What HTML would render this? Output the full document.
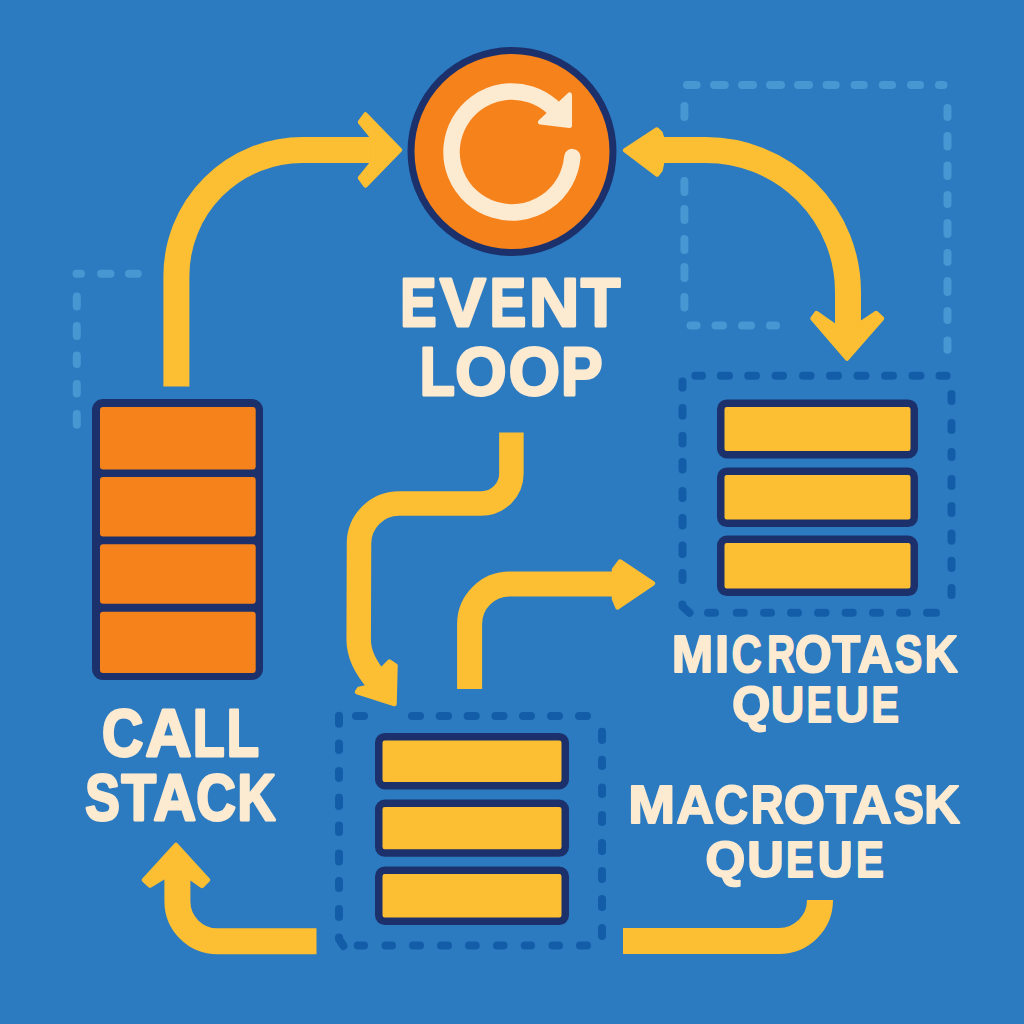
<!DOCTYPE html>
<html><head><meta charset="utf-8"><style>
html,body{margin:0;padding:0;width:1024px;height:1024px;overflow:hidden;background:#2C7BC0;}
svg{display:block;}
</style></head><body>
<svg width="1024" height="1024" viewBox="0 0 1024 1024">
<rect width="1024" height="1024" fill="#2C7BC0"/>
<g stroke="#4797D2" stroke-width="8" stroke-linecap="round"><line x1="687.0" y1="85" x2="696.6" y2="85" /><line x1="714.0" y1="85" x2="724.8" y2="85" /><line x1="742.0" y1="85" x2="753.0" y2="85" /><line x1="770.0" y1="85" x2="781.0" y2="85" /><line x1="798.0" y1="85" x2="809.0" y2="85" /><line x1="826.5" y1="85" x2="835.7" y2="85" /><line x1="854.6" y1="85" x2="863.8" y2="85" /><line x1="882.8" y1="85" x2="892.0" y2="85" /><line x1="911.0" y1="85" x2="920.0" y2="85" /><line x1="939.0" y1="85" x2="943.5" y2="85" /><line x1="684.4" y1="106.0" x2="684.4" y2="117.0" /><line x1="684.4" y1="181.0" x2="684.4" y2="192.0" /><line x1="684.4" y1="209.0" x2="684.4" y2="220.0" /><line x1="684.4" y1="239.0" x2="684.4" y2="250.0" /><line x1="684.4" y1="267.0" x2="684.4" y2="278.0" /><line x1="684.4" y1="297.0" x2="684.4" y2="307.5" /><line x1="690.5" y1="325.6" x2="696.6" y2="325.6" /><line x1="715.5" y1="325.6" x2="723.0" y2="325.6" /><line x1="742.0" y1="325.6" x2="751.0" y2="325.6" /><line x1="770.0" y1="325.6" x2="776.0" y2="325.6" /><line x1="947.5" y1="108.0" x2="947.5" y2="117.0" /><line x1="947.5" y1="136.0" x2="947.5" y2="146.6" /><line x1="947.5" y1="165.6" x2="947.5" y2="176.0" /><line x1="947.5" y1="195.0" x2="947.5" y2="204.0" /><line x1="947.5" y1="223.0" x2="947.5" y2="234.0" /><line x1="947.5" y1="253.0" x2="947.5" y2="262.0" /><line x1="947.5" y1="281.0" x2="947.5" y2="292.0" /><line x1="947.5" y1="311.0" x2="947.5" y2="320.0" /><line x1="947.5" y1="340.6" x2="947.5" y2="349.8" /><line x1="76.5" y1="273.8" x2="81.0" y2="273.8" /><line x1="101.0" y1="273.8" x2="110.5" y2="273.8" /><line x1="129.0" y1="273.8" x2="137.8" y2="273.8" /><line x1="76.8" y1="296.5" x2="76.8" y2="306.5" /><line x1="76.8" y1="326.0" x2="76.8" y2="336.0" /><line x1="76.8" y1="355.6" x2="76.8" y2="364.0" /><line x1="76.8" y1="384.0" x2="76.8" y2="393.5" /><line x1="76.8" y1="414.0" x2="76.8" y2="424.7" /></g>
<g stroke="#135DA8" stroke-width="8" stroke-linecap="round" stroke-linejoin="round"><line x1="695.3" y1="375.7" x2="702.0" y2="375.7" /><line x1="720.9" y1="375.7" x2="729.0" y2="375.7" /><line x1="748.2" y1="375.7" x2="756.0" y2="375.7" /><line x1="775.5" y1="375.7" x2="783.0" y2="375.7" /><line x1="803.0" y1="375.7" x2="810.5" y2="375.7" /><line x1="830.0" y1="375.7" x2="838.0" y2="375.7" /><line x1="857.5" y1="375.7" x2="865.5" y2="375.7" /><line x1="885.0" y1="375.7" x2="893.0" y2="375.7" /><line x1="912.5" y1="375.7" x2="920.5" y2="375.7" /><line x1="939.5" y1="375.7" x2="946.6" y2="375.7" /><line x1="682.5" y1="381.6" x2="682.5" y2="387.7" /><line x1="682.5" y1="408.0" x2="682.5" y2="415.8" /><line x1="682.5" y1="435.8" x2="682.5" y2="443.4" /><line x1="682.5" y1="462.0" x2="682.5" y2="469.5" /><line x1="682.5" y1="491.0" x2="682.5" y2="498.0" /><line x1="682.5" y1="518.0" x2="682.5" y2="525.5" /><line x1="682.5" y1="545.6" x2="682.5" y2="554.0" /><line x1="682.5" y1="573.0" x2="682.5" y2="580.0" /><path d="M 682.5 604.5 L 682.5 606.5 L 689.5 612.8" fill="none"/><line x1="708.0" y1="612.8" x2="715.0" y2="612.8" /><line x1="736.7" y1="612.8" x2="743.8" y2="612.8" /><line x1="764.0" y1="612.8" x2="771.0" y2="612.8" /><line x1="791.0" y1="612.8" x2="798.0" y2="612.8" /><line x1="818.0" y1="612.8" x2="825.5" y2="612.8" /><line x1="845.6" y1="612.8" x2="852.8" y2="612.8" /><line x1="873.0" y1="612.8" x2="880.0" y2="612.8" /><line x1="900.0" y1="612.8" x2="907.0" y2="612.8" /><line x1="927.0" y1="612.8" x2="936.0" y2="612.8" /><line x1="951.5" y1="394.0" x2="951.5" y2="401.0" /><line x1="951.5" y1="423.0" x2="951.5" y2="430.0" /><line x1="951.5" y1="452.0" x2="951.5" y2="457.0" /><line x1="951.5" y1="479.0" x2="951.5" y2="486.0" /><line x1="951.5" y1="506.0" x2="951.5" y2="513.0" /><line x1="951.5" y1="533.5" x2="951.5" y2="540.7" /><line x1="951.5" y1="560.8" x2="951.5" y2="568.0" /><line x1="951.5" y1="588.0" x2="951.5" y2="595.0" /><line x1="356.0" y1="716" x2="364.0" y2="716" /><line x1="412.0" y1="716" x2="420.0" y2="716" /><line x1="439.7" y1="716" x2="448.0" y2="716" /><line x1="467.6" y1="716" x2="475.7" y2="716" /><line x1="495.4" y1="716" x2="503.5" y2="716" /><line x1="523.0" y1="716" x2="531.0" y2="716" /><line x1="551.0" y1="716" x2="559.0" y2="716" /><line x1="579.0" y1="716" x2="587.0" y2="716" /><line x1="339" y1="715.7" x2="339" y2="723.8" /><line x1="339" y1="743.5" x2="339" y2="750.0" /><line x1="339" y1="771.0" x2="339" y2="778.0" /><line x1="339" y1="797.8" x2="339" y2="806.0" /><line x1="339" y1="825.6" x2="339" y2="832.0" /><line x1="339" y1="853.4" x2="339" y2="861.5" /><line x1="339" y1="881.0" x2="339" y2="888.0" /><line x1="339" y1="909.0" x2="339" y2="917.0" /><path d="M 339 937.5 L 339 939 L 343.5 946" fill="none"/><line x1="357.7" y1="945.5" x2="364.0" y2="945.5" /><line x1="385.5" y1="945.5" x2="392.0" y2="945.5" /><line x1="413.0" y1="945.5" x2="420.0" y2="945.5" /><line x1="441.0" y1="945.5" x2="448.0" y2="945.5" /><line x1="469.0" y1="945.5" x2="475.7" y2="945.5" /><line x1="497.0" y1="945.5" x2="503.5" y2="945.5" /><line x1="524.7" y1="945.5" x2="531.0" y2="945.5" /><line x1="552.5" y1="945.5" x2="559.0" y2="945.5" /><line x1="580.0" y1="945.5" x2="587.0" y2="945.5" /><line x1="602" y1="731.8" x2="602" y2="740.0" /><line x1="602" y1="759.7" x2="602" y2="766.0" /><line x1="602" y1="787.5" x2="602" y2="794.0" /><line x1="602" y1="815.0" x2="602" y2="822.0" /><line x1="602" y1="843.0" x2="602" y2="851.0" /><line x1="602" y1="871.0" x2="602" y2="879.0" /><line x1="602" y1="899.0" x2="602" y2="907.0" /><line x1="602" y1="928.0" x2="602" y2="936.0" /></g>
<rect x="96" y="403" width="163" height="273" rx="7" fill="#1C316C" stroke="#1C316C" stroke-width="8"/><rect x="100" y="407" width="155.7" height="62.6" rx="3" fill="#F6821C"/><rect x="100" y="477" width="155.7" height="59.4" rx="3" fill="#F6821C"/><rect x="100" y="544.3" width="155.7" height="59.5" rx="3" fill="#F6821C"/><rect x="100" y="611.7" width="155.7" height="61.3" rx="3" fill="#F6821C"/>
<rect x="720.75" y="403.25" width="193.5" height="51.4" rx="6" fill="#FCBE32" stroke="#1C316C" stroke-width="7.5"/><rect x="720.75" y="471.25" width="193.5" height="52.0" rx="6" fill="#FCBE32" stroke="#1C316C" stroke-width="7.5"/><rect x="720.75" y="539.35" width="193.5" height="52.9" rx="6" fill="#FCBE32" stroke="#1C316C" stroke-width="7.5"/>
<rect x="378.75" y="736.75" width="186.5" height="48.9" rx="6" fill="#FCBE32" stroke="#1C316C" stroke-width="7.5"/><rect x="378.75" y="803.35" width="186.5" height="49.7" rx="6" fill="#FCBE32" stroke="#1C316C" stroke-width="7.5"/><rect x="378.75" y="870.15" width="186.5" height="51.1" rx="6" fill="#FCBE32" stroke="#1C316C" stroke-width="7.5"/>
<circle cx="512" cy="151.5" r="101" fill="#F6821C" stroke="#1C316C" stroke-width="7"/>
<path d="M 572.3 157.1 A 60.5 60.5 0 1 1 552.5 107.0" fill="none" stroke="#FCEAD1" stroke-width="16.5" stroke-linecap="round"/>
<path d="M 569.5 95 L 569.5 125.5 L 540.5 122 Z" fill="#FCEAD1" stroke="#FCEAD1" stroke-width="5" stroke-linejoin="round"/>
<path d="M 176.4 386.5 L 176.4 276 A 126 126 0 0 1 302.4 150 L 386 150" fill="none" stroke="#FCBE32" stroke-width="26" stroke-linecap="butt"/><path d="M 373 138 L 360 122 L 365.5 114.5 L 400 150 L 365.5 185.5 L 360 178 L 373 162 Z" fill="#FCBE32" stroke="#FCBE32" stroke-width="4.5" stroke-linejoin="round"/><path d="M 652 150 L 706 150 A 142 142 0 0 1 848 292 L 848 342" fill="none" stroke="#FCBE32" stroke-width="26" stroke-linecap="butt"/><path d="M 662 138 L 660.5 133 L 657 129.5 L 625 150.3 L 657 174.5 L 660.5 170 L 662 163 Z" fill="#FCBE32" stroke="#FCBE32" stroke-width="4.5" stroke-linejoin="round"/><path d="M 859.5 324 L 876 313 L 882 318.5 L 847 358.5 L 812.5 318.5 L 816.5 313 L 835 326 Z" fill="#FCBE32" stroke="#FCBE32" stroke-width="4.5" stroke-linejoin="round"/><path d="M 511.4 432.5 L 511.4 473.5 A 30 30 0 0 1 481.4 503.5 L 399 503.5 A 40 40 0 0 0 359 543.5 L 358.7 640 Q 358.7 660 378 682" fill="none" stroke="#FCBE32" stroke-width="24.5" stroke-linecap="butt"/><path d="M 383 668 L 389.5 661.5 L 395.5 665.5 L 394.5 704 L 357 692 L 359 689 L 367.5 687 Z" fill="#FCBE32" stroke="#FCBE32" stroke-width="4.5" stroke-linejoin="round"/><path d="M 469.6 689 L 469.6 624 A 40 40 0 0 1 509.6 584 L 626 584" fill="none" stroke="#FCBE32" stroke-width="25" stroke-linecap="butt"/><path d="M 614 572 L 614 569.5 L 620 561.5 L 653 583.3 L 617.5 607.5 L 614 599 L 614 596 Z" fill="#FCBE32" stroke="#FCBE32" stroke-width="4.5" stroke-linejoin="round"/><path d="M 316.5 941.3 L 217.4 941.3 A 40 40 0 0 1 177.4 901.3 L 177.4 866" fill="none" stroke="#FCBE32" stroke-width="26" stroke-linecap="butt"/><path d="M 164 877 L 150 885.5 L 144 880 L 176 845 L 208 880 L 202 886 L 190.5 878 Z" fill="#FCBE32" stroke="#FCBE32" stroke-width="4.5" stroke-linejoin="round"/><path d="M 623 941 L 779 941 A 41 41 0 0 0 820 900 L 820 900.5" fill="none" stroke="#FCBE32" stroke-width="26" stroke-linecap="butt"/>
<g fill="#FCEAD1" stroke="#FCEAD1" stroke-linejoin="round" font-family="Liberation Sans, sans-serif" font-weight="bold"><g transform="matrix(0.73379 0 0 0.92727 400.139 22.000)"><text x="0" y="328" font-size="74" stroke-width="3.2">E</text></g><g transform="matrix(0.92565 0 0 0.92727 440.117 22.000)"><text x="0" y="328" font-size="74" stroke-width="3.2">V</text></g><g transform="matrix(0.73582 0 0 0.92727 489.759 22.000)"><text x="0" y="328" font-size="74" stroke-width="3.2">E</text></g><g transform="matrix(0.94037 0 0 0.92727 529.005 22.000)"><text x="0" y="328" font-size="74" stroke-width="3.2">N</text></g><g transform="matrix(0.86751 0 0 0.92727 580.919 22.000)"><text x="0" y="328" font-size="74" stroke-width="3.2">T</text></g><g transform="matrix(0.77576 0 0 0.92067 419.696 29.652)"><text x="0" y="397" font-size="74" stroke-width="3.2">L</text></g><g transform="matrix(0.89000 0 0 0.92067 455.343 29.652)"><text x="0" y="397" font-size="74" stroke-width="3.2">O</text></g><g transform="matrix(0.88792 0 0 0.92067 508.786 29.652)"><text x="0" y="397" font-size="74" stroke-width="3.2">O</text></g><g transform="matrix(0.84120 0 0 0.92067 560.918 29.652)"><text x="0" y="397" font-size="74" stroke-width="3.2">P</text></g><g transform="matrix(0.78228 0 0 0.90909 102.071 67.091)"><text x="0" y="758" font-size="73" stroke-width="3.2">C</text></g><g transform="matrix(0.87085 0 0 0.90909 145.405 67.091)"><text x="0" y="758" font-size="73" stroke-width="3.2">A</text></g><g transform="matrix(0.70845 0 0 0.90909 193.071 67.091)"><text x="0" y="758" font-size="73" stroke-width="3.2">L</text></g><g transform="matrix(0.72312 0 0 0.90909 226.732 67.091)"><text x="0" y="758" font-size="73" stroke-width="3.2">L</text></g><g transform="matrix(0.72931 0 0 0.90723 85.189 74.440)"><text x="0" y="822" font-size="71" stroke-width="3.2">S</text></g><g transform="matrix(0.79671 0 0 0.90723 121.513 74.440)"><text x="0" y="822" font-size="71" stroke-width="3.2">T</text></g><g transform="matrix(0.82865 0 0 0.90723 153.561 74.440)"><text x="0" y="822" font-size="71" stroke-width="3.2">A</text></g><g transform="matrix(0.77063 0 0 0.90723 196.158 74.440)"><text x="0" y="822" font-size="71" stroke-width="3.2">C</text></g><g transform="matrix(0.73930 0 0 0.90723 237.475 74.440)"><text x="0" y="822" font-size="71" stroke-width="3.2">K</text></g><g transform="matrix(0.89760 0 0 0.93442 671.980 43.379)"><text x="0" y="673" font-size="55" stroke-width="2.2">M</text></g><g transform="matrix(0.89885 0 0 0.93442 715.298 43.379)"><text x="0" y="673" font-size="55" stroke-width="2.2">I</text></g><g transform="matrix(0.74886 0 0 0.93442 731.816 43.379)"><text x="0" y="673" font-size="55" stroke-width="2.2">C</text></g><g transform="matrix(0.69647 0 0 0.93442 767.265 43.379)"><text x="0" y="673" font-size="55" stroke-width="2.2">R</text></g><g transform="matrix(0.85664 0 0 0.93442 794.952 43.379)"><text x="0" y="673" font-size="55" stroke-width="2.2">O</text></g><g transform="matrix(0.83136 0 0 0.93442 832.321 43.379)"><text x="0" y="673" font-size="55" stroke-width="2.2">T</text></g><g transform="matrix(0.89588 0 0 0.93442 857.756 43.379)"><text x="0" y="673" font-size="55" stroke-width="2.2">A</text></g><g transform="matrix(0.74812 0 0 0.93442 894.679 43.379)"><text x="0" y="673" font-size="55" stroke-width="2.2">S</text></g><g transform="matrix(0.82531 0 0 0.93442 924.817 43.379)"><text x="0" y="673" font-size="55" stroke-width="2.2">K</text></g><g transform="matrix(0.89008 0 0 0.89813 732.218 71.686)"><text x="0" y="724.5" font-size="55" stroke-width="2.2">Q</text></g><g transform="matrix(0.83422 0 0 0.89813 770.979 71.686)"><text x="0" y="724.5" font-size="55" stroke-width="2.2">U</text></g><g transform="matrix(0.68370 0 0 0.89813 806.699 71.686)"><text x="0" y="724.5" font-size="55" stroke-width="2.2">E</text></g><g transform="matrix(0.83316 0 0 0.89813 835.389 71.686)"><text x="0" y="724.5" font-size="55" stroke-width="2.2">U</text></g><g transform="matrix(0.74861 0 0 0.89813 871.547 71.686)"><text x="0" y="724.5" font-size="55" stroke-width="2.2">E</text></g><g transform="matrix(0.95312 0 0 0.91483 628.165 68.676)"><text x="0" y="824.7" font-size="59" stroke-width="2.2">M</text></g><g transform="matrix(0.88084 0 0 0.91483 676.520 68.676)"><text x="0" y="824.7" font-size="59" stroke-width="2.2">A</text></g><g transform="matrix(0.78711 0 0 0.91483 714.493 68.676)"><text x="0" y="824.7" font-size="59" stroke-width="2.2">C</text></g><g transform="matrix(0.77172 0 0 0.91483 750.665 68.676)"><text x="0" y="824.7" font-size="59" stroke-width="2.2">R</text></g><g transform="matrix(0.89283 0 0 0.91483 783.905 68.676)"><text x="0" y="824.7" font-size="59" stroke-width="2.2">O</text></g><g transform="matrix(0.85865 0 0 0.91483 825.410 68.676)"><text x="0" y="824.7" font-size="59" stroke-width="2.2">T</text></g><g transform="matrix(0.91832 0 0 0.91483 852.390 68.676)"><text x="0" y="824.7" font-size="59" stroke-width="2.2">A</text></g><g transform="matrix(0.77406 0 0 0.91483 893.585 68.676)"><text x="0" y="824.7" font-size="59" stroke-width="2.2">S</text></g><g transform="matrix(0.83560 0 0 0.91483 924.319 68.676)"><text x="0" y="824.7" font-size="59" stroke-width="2.2">K</text></g><g transform="matrix(0.89595 0 0 0.88960 705.442 95.095)"><text x="0" y="879.4" font-size="57" stroke-width="2.2">Q</text></g><g transform="matrix(0.88894 0 0 0.88960 747.231 95.095)"><text x="0" y="879.4" font-size="57" stroke-width="2.2">U</text></g><g transform="matrix(0.72826 0 0 0.88960 785.909 95.095)"><text x="0" y="879.4" font-size="57" stroke-width="2.2">E</text></g><g transform="matrix(0.85157 0 0 0.88960 817.850 95.095)"><text x="0" y="879.4" font-size="57" stroke-width="2.2">U</text></g><g transform="matrix(0.73215 0 0 0.88960 856.017 95.095)"><text x="0" y="879.4" font-size="57" stroke-width="2.2">E</text></g></g>
</svg></body></html>
